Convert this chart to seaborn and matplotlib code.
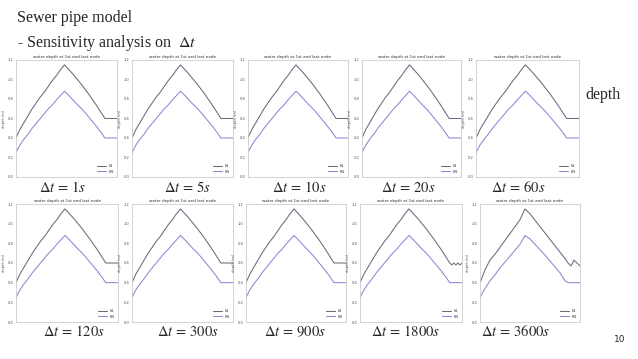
import pandas as pd
import matplotlib.pyplot as plt
import seaborn as sns

# time axis (h) and depths for the smooth runs (dt = 1s ... 900s)
t_smooth = [0, 2, 4, 6, 8, 10, 12, 14, 16, 18, 20, 22, 24,
            26, 28, 30, 32, 34, 36, 38, 40, 42, 44, 46, 48, 50]
h1_smooth = [0.40, 0.49, 0.56, 0.63, 0.70, 0.76, 0.82, 0.87, 0.93, 0.99, 1.04, 1.10, 1.15,
             1.105, 1.06, 1.01, 0.96, 0.905, 0.85, 0.79, 0.73, 0.665, 0.60, 0.60, 0.60, 0.60]
hN_smooth = [0.25, 0.33, 0.39, 0.44, 0.50, 0.55, 0.60, 0.65, 0.70, 0.74, 0.79, 0.835, 0.88,
             0.84, 0.795, 0.75, 0.71, 0.665, 0.615, 0.565, 0.515, 0.46, 0.40, 0.40, 0.40, 0.40]

# dt = 1800s : small wiggles once h1 levels off
t_1800 = [0, 2, 4, 6, 8, 10, 12, 14, 16, 18, 20, 22, 24,
          26, 28, 30, 32, 34, 36, 38, 40, 42, 44, 45, 46, 47, 48, 49, 50]
h1_1800 = [0.40, 0.49, 0.56, 0.63, 0.70, 0.76, 0.82, 0.87, 0.93, 0.99, 1.04, 1.10, 1.15,
           1.105, 1.06, 1.01, 0.96, 0.905, 0.85, 0.79, 0.73, 0.665, 0.60, 0.58, 0.60, 0.58, 0.60, 0.58, 0.60]
hN_1800 = [0.25, 0.33, 0.39, 0.44, 0.50, 0.55, 0.60, 0.65, 0.70, 0.74, 0.79, 0.835, 0.88,
           0.84, 0.795, 0.75, 0.71, 0.665, 0.615, 0.565, 0.515, 0.46, 0.40, 0.40, 0.40, 0.40, 0.40, 0.40, 0.40]

# dt = 3600s : coarse steps, bump at the end
t_3600 = [0, 2.5, 5, 7.5, 10, 12.5, 15, 17.5, 20, 22.5, 25, 27.5, 30,
          32.5, 35, 37.5, 40, 42.5, 44, 45.5, 47, 50]
h1_3600 = [0.40, 0.53, 0.63, 0.69, 0.76, 0.83, 0.90, 0.97, 1.04, 1.15, 1.10, 1.035, 0.97,
           0.905, 0.84, 0.775, 0.71, 0.645, 0.60, 0.57, 0.63, 0.57]
hN_3600 = [0.25, 0.34, 0.42, 0.48, 0.55, 0.61, 0.67, 0.73, 0.79, 0.88, 0.845, 0.79, 0.735,
           0.68, 0.62, 0.56, 0.50, 0.42, 0.40, 0.40, 0.40, 0.40]

dt_labels = ["1s", "5s", "10s", "20s", "60s",
             "120s", "300s", "900s", "1800s", "3600s"]

runs = {lab: (t_smooth, h1_smooth, hN_smooth) for lab in dt_labels[:8]}
runs["1800s"] = (t_1800, h1_1800, hN_1800)
runs["3600s"] = (t_3600, h1_3600, hN_3600)

# axes boxes in pixels: left, right, top, bottom
boxes = [(16, 117, 60, 177), (132, 233, 60, 177), (248, 348, 60, 177),
         (362, 461, 60, 177), (476, 579, 60, 177),
         (16, 118, 204, 322), (132, 233, 204, 322), (246, 346, 204, 322),
         (360, 462, 204, 322), (480, 580, 204, 322)]
label_x = [63, 188, 299, 408, 518, 74, 188, 295, 405, 515]

sns.set_style("white")
plt.rcParams['font.family'] = ['DejaVu Sans']
plt.rcParams['mathtext.fontset'] = 'stix'

W, H = 638, 359
fig = plt.figure(figsize=(W / 100, H / 100), dpi=100)
pal = {"h1": "#6a6a7e", "hN": "#8888d6"}

for i, lab in enumerate(dt_labels):
    l, r, top, bot = boxes[i]
    t, h1, hN = runs[lab]
    df = pd.DataFrame({"time": list(t) * 2, "depth": list(h1) + list(hN),
                       "node": ["h1"] * len(t) + ["hN"] * len(t)})
    ax = fig.add_axes([l / W, 1 - bot / H, (r - l) / W, (bot - top) / H])
    sns.lineplot(data=df, x="time", y="depth", hue="node", palette=pal,
                 linewidth=0.75, ax=ax)
    ax.set_xlim(min(t), max(t))
    ax.set_ylim(0, 1.2)
    ax.set_yticks([0.0, 0.2, 0.4, 0.6, 0.8, 1.0, 1.2])
    ax.tick_params(axis="y", labelsize=2.6, length=0, pad=2, colors="#555555")
    ax.set_xticks([])
    ax.set_xlabel("")
    ax.set_ylabel("depth (m)", fontsize=2.6, labelpad=1, color="#555555")
    ax.set_title("water depth at 1st and last node", fontsize=3, pad=1.5, color="#333333")
    for s in ax.spines.values():
        s.set_color("#cccccc")
        s.set_linewidth(0.6)
    ax.legend(loc="lower right", fontsize=2.6, frameon=False, handlelength=2.5)

    fig.text(label_x[i] / W, 1 - (bot + 10) / H,
             r"$\Delta t\,=\,%s$" % lab, fontsize=10.5,
             ha="center", va="center")

fig.text(17 / W, 1 - 18 / H, "Sewer pipe model", fontsize=11.5,
         family="Liberation Serif", va="center")
fig.text(17 / W, 1 - 43 / H, r"- Sensitivity analysis on  $\Delta t$", fontsize=11.5,
         family="Liberation Serif", va="center")
fig.text(585 / W, 1 - 95 / H, "depth", fontsize=11.5,
         family="Liberation Serif", va="center")
fig.text(620 / W, 1 - 339 / H, "10", fontsize=6.5, ha="center", va="center")

fig.savefig("out.png", dpi=100)
